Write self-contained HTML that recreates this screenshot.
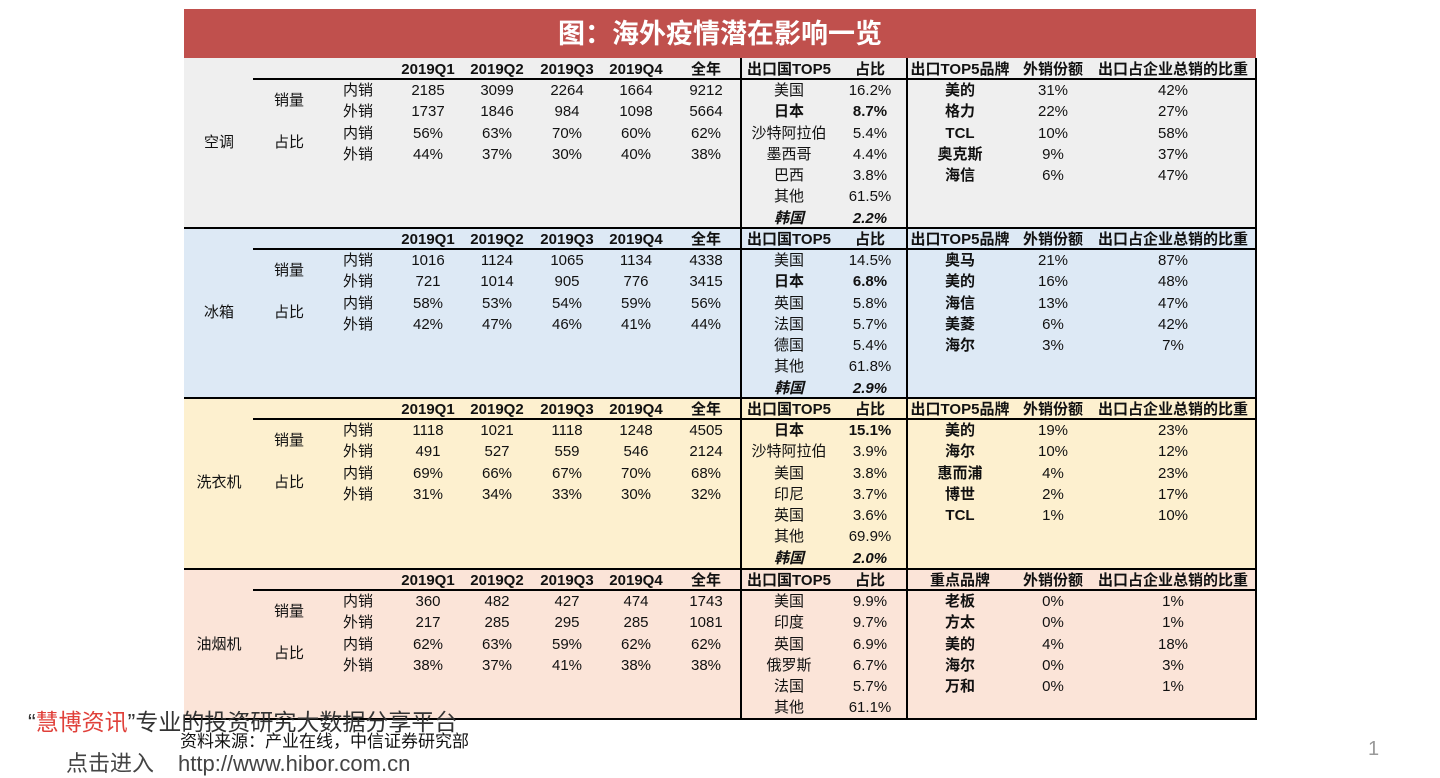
<!DOCTYPE html>
<html><head><meta charset="utf-8"><style>
body{margin:0;width:1440px;height:770px;background:#fff;position:relative;overflow:hidden;font-family:"Liberation Sans","Noto Sans CJK SC",sans-serif;}
.sec{position:absolute;left:184px;width:1072px;}
.r{position:absolute;left:0;width:1072px;height:21px;font-size:15px;line-height:24px;color:#111;}
.r span{position:absolute;text-align:center;white-space:nowrap;}
.h{font-weight:bold;}
.a{left:144px;width:60px}.q1{left:214px;width:60px}.q2{left:283px;width:60px}.q3{left:353px;width:60px}.q4{left:422px;width:60px}.y{left:489px;width:66px}
.c{left:557px;width:96px}.p{left:656px;width:60px}.b{left:726px;width:100px}.s{left:829px;width:80px}.w{left:909px;width:160px}
.hl{position:absolute;height:1.5px;background:#000;}
.vl{position:absolute;width:1.5px;background:#000;}
.lab{position:absolute;font-size:15px;line-height:24px;text-align:center;color:#111;}
.it{font-weight:bold;font-style:italic;}
</style></head><body>
<div style="position:absolute;left:184px;top:9px;width:1072px;height:49px;background:#c0504d;color:#fff;font-size:27px;font-weight:bold;text-align:center;line-height:50px;">图：海外疫情潜在影响一览</div>

<!-- section 1 -->
<div class="sec" style="top:58px;height:170px;background:#efefef;">
<div class="lab" style="left:0;width:70px;top:73px;">空调</div>
<div class="lab" style="left:70px;width:70px;top:31px;">销量</div>
<div class="lab" style="left:70px;width:70px;top:73px;">占比</div>
<div class="r h" style="top:0"><span class="q1">2019Q1</span><span class="q2">2019Q2</span><span class="q3">2019Q3</span><span class="q4">2019Q4</span><span class="y">全年</span><span class="c">出口国TOP5</span><span class="p">占比</span><span class="b">出口TOP5品牌</span><span class="s">外销份额</span><span class="w">出口占企业总销的比重</span></div>
<div class="r" style="top:21px"><span class="a">内销</span><span class="q1">2185</span><span class="q2">3099</span><span class="q3">2264</span><span class="q4">1664</span><span class="y">9212</span><span class="c">美国</span><span class="p">16.2%</span><span class="b h">美的</span><span class="s">31%</span><span class="w">42%</span></div>
<div class="r" style="top:42.3px"><span class="a">外销</span><span class="q1">1737</span><span class="q2">1846</span><span class="q3">984</span><span class="q4">1098</span><span class="y">5664</span><span class="c h">日本</span><span class="p h">8.7%</span><span class="b h">格力</span><span class="s">22%</span><span class="w">27%</span></div>
<div class="r" style="top:63.5px"><span class="a">内销</span><span class="q1">56%</span><span class="q2">63%</span><span class="q3">70%</span><span class="q4">60%</span><span class="y">62%</span><span class="c">沙特阿拉伯</span><span class="p">5.4%</span><span class="b h">TCL</span><span class="s">10%</span><span class="w">58%</span></div>
<div class="r" style="top:84.8px"><span class="a">外销</span><span class="q1">44%</span><span class="q2">37%</span><span class="q3">30%</span><span class="q4">40%</span><span class="y">38%</span><span class="c">墨西哥</span><span class="p">4.4%</span><span class="b h">奥克斯</span><span class="s">9%</span><span class="w">37%</span></div>
<div class="r" style="top:106px"><span class="c">巴西</span><span class="p">3.8%</span><span class="b h">海信</span><span class="s">6%</span><span class="w">47%</span></div>
<div class="r" style="top:127.3px"><span class="c">其他</span><span class="p">61.5%</span></div>
<div class="r it" style="top:148.5px"><span class="c">韩国</span><span class="p">2.2%</span></div>
<div class="hl" style="left:69px;width:1003px;top:20px"></div>
<div class="vl" style="left:556px;top:0;height:170px"></div><div class="vl" style="left:722px;top:0;height:170px"></div>
</div>

<!-- section 2 -->
<div class="sec" style="top:228px;height:170px;background:#dde9f5;">
<div class="hl" style="left:0;width:1072px;top:-1px"></div>
<div class="lab" style="left:0;width:70px;top:73px;">冰箱</div>
<div class="lab" style="left:70px;width:70px;top:31px;">销量</div>
<div class="lab" style="left:70px;width:70px;top:73px;">占比</div>
<div class="r h" style="top:0"><span class="q1">2019Q1</span><span class="q2">2019Q2</span><span class="q3">2019Q3</span><span class="q4">2019Q4</span><span class="y">全年</span><span class="c">出口国TOP5</span><span class="p">占比</span><span class="b">出口TOP5品牌</span><span class="s">外销份额</span><span class="w">出口占企业总销的比重</span></div>
<div class="r" style="top:21px"><span class="a">内销</span><span class="q1">1016</span><span class="q2">1124</span><span class="q3">1065</span><span class="q4">1134</span><span class="y">4338</span><span class="c">美国</span><span class="p">14.5%</span><span class="b h">奥马</span><span class="s">21%</span><span class="w">87%</span></div>
<div class="r" style="top:42.3px"><span class="a">外销</span><span class="q1">721</span><span class="q2">1014</span><span class="q3">905</span><span class="q4">776</span><span class="y">3415</span><span class="c h">日本</span><span class="p h">6.8%</span><span class="b h">美的</span><span class="s">16%</span><span class="w">48%</span></div>
<div class="r" style="top:63.5px"><span class="a">内销</span><span class="q1">58%</span><span class="q2">53%</span><span class="q3">54%</span><span class="q4">59%</span><span class="y">56%</span><span class="c">英国</span><span class="p">5.8%</span><span class="b h">海信</span><span class="s">13%</span><span class="w">47%</span></div>
<div class="r" style="top:84.8px"><span class="a">外销</span><span class="q1">42%</span><span class="q2">47%</span><span class="q3">46%</span><span class="q4">41%</span><span class="y">44%</span><span class="c">法国</span><span class="p">5.7%</span><span class="b h">美菱</span><span class="s">6%</span><span class="w">42%</span></div>
<div class="r" style="top:106px"><span class="c">德国</span><span class="p">5.4%</span><span class="b h">海尔</span><span class="s">3%</span><span class="w">7%</span></div>
<div class="r" style="top:127.3px"><span class="c">其他</span><span class="p">61.8%</span></div>
<div class="r it" style="top:148.5px"><span class="c">韩国</span><span class="p">2.9%</span></div>
<div class="hl" style="left:69px;width:1003px;top:20px"></div>
<div class="vl" style="left:556px;top:0;height:170px"></div><div class="vl" style="left:722px;top:0;height:170px"></div>
</div>

<!-- section 3 -->
<div class="sec" style="top:398px;height:171px;background:#fdf0cf;">
<div class="hl" style="left:0;width:1072px;top:-1px"></div>
<div class="lab" style="left:0;width:70px;top:73px;">洗衣机</div>
<div class="lab" style="left:70px;width:70px;top:31px;">销量</div>
<div class="lab" style="left:70px;width:70px;top:73px;">占比</div>
<div class="r h" style="top:0"><span class="q1">2019Q1</span><span class="q2">2019Q2</span><span class="q3">2019Q3</span><span class="q4">2019Q4</span><span class="y">全年</span><span class="c">出口国TOP5</span><span class="p">占比</span><span class="b">出口TOP5品牌</span><span class="s">外销份额</span><span class="w">出口占企业总销的比重</span></div>
<div class="r" style="top:21px"><span class="a">内销</span><span class="q1">1118</span><span class="q2">1021</span><span class="q3">1118</span><span class="q4">1248</span><span class="y">4505</span><span class="c h">日本</span><span class="p h">15.1%</span><span class="b h">美的</span><span class="s">19%</span><span class="w">23%</span></div>
<div class="r" style="top:42.3px"><span class="a">外销</span><span class="q1">491</span><span class="q2">527</span><span class="q3">559</span><span class="q4">546</span><span class="y">2124</span><span class="c">沙特阿拉伯</span><span class="p">3.9%</span><span class="b h">海尔</span><span class="s">10%</span><span class="w">12%</span></div>
<div class="r" style="top:63.5px"><span class="a">内销</span><span class="q1">69%</span><span class="q2">66%</span><span class="q3">67%</span><span class="q4">70%</span><span class="y">68%</span><span class="c">美国</span><span class="p">3.8%</span><span class="b h">惠而浦</span><span class="s">4%</span><span class="w">23%</span></div>
<div class="r" style="top:84.8px"><span class="a">外销</span><span class="q1">31%</span><span class="q2">34%</span><span class="q3">33%</span><span class="q4">30%</span><span class="y">32%</span><span class="c">印尼</span><span class="p">3.7%</span><span class="b h">博世</span><span class="s">2%</span><span class="w">17%</span></div>
<div class="r" style="top:106px"><span class="c">英国</span><span class="p">3.6%</span><span class="b h">TCL</span><span class="s">1%</span><span class="w">10%</span></div>
<div class="r" style="top:127.3px"><span class="c">其他</span><span class="p">69.9%</span></div>
<div class="r it" style="top:148.5px"><span class="c">韩国</span><span class="p">2.0%</span></div>
<div class="hl" style="left:69px;width:1003px;top:20px"></div>
<div class="vl" style="left:556px;top:0;height:171px"></div><div class="vl" style="left:722px;top:0;height:171px"></div>
</div>

<!-- section 4 -->
<div class="sec" style="top:569px;height:150px;background:#fbe4d8;">
<div class="hl" style="left:0;width:1072px;top:-1px"></div>
<div class="lab" style="left:0;width:70px;top:64px;">油烟机</div>
<div class="lab" style="left:70px;width:70px;top:31px;">销量</div>
<div class="lab" style="left:70px;width:70px;top:73px;">占比</div>
<div class="r h" style="top:0"><span class="q1">2019Q1</span><span class="q2">2019Q2</span><span class="q3">2019Q3</span><span class="q4">2019Q4</span><span class="y">全年</span><span class="c">出口国TOP5</span><span class="p">占比</span><span class="b">重点品牌</span><span class="s">外销份额</span><span class="w">出口占企业总销的比重</span></div>
<div class="r" style="top:21px"><span class="a">内销</span><span class="q1">360</span><span class="q2">482</span><span class="q3">427</span><span class="q4">474</span><span class="y">1743</span><span class="c">美国</span><span class="p">9.9%</span><span class="b h">老板</span><span class="s">0%</span><span class="w">1%</span></div>
<div class="r" style="top:42.3px"><span class="a">外销</span><span class="q1">217</span><span class="q2">285</span><span class="q3">295</span><span class="q4">285</span><span class="y">1081</span><span class="c">印度</span><span class="p">9.7%</span><span class="b h">方太</span><span class="s">0%</span><span class="w">1%</span></div>
<div class="r" style="top:63.5px"><span class="a">内销</span><span class="q1">62%</span><span class="q2">63%</span><span class="q3">59%</span><span class="q4">62%</span><span class="y">62%</span><span class="c">英国</span><span class="p">6.9%</span><span class="b h">美的</span><span class="s">4%</span><span class="w">18%</span></div>
<div class="r" style="top:84.8px"><span class="a">外销</span><span class="q1">38%</span><span class="q2">37%</span><span class="q3">41%</span><span class="q4">38%</span><span class="y">38%</span><span class="c">俄罗斯</span><span class="p">6.7%</span><span class="b h">海尔</span><span class="s">0%</span><span class="w">3%</span></div>
<div class="r" style="top:106px"><span class="c">法国</span><span class="p">5.7%</span><span class="b h">万和</span><span class="s">0%</span><span class="w">1%</span></div>
<div class="r" style="top:127.3px"><span class="c">其他</span><span class="p">61.1%</span></div>
<div class="hl" style="left:69px;width:1003px;top:20px"></div>
<div class="vl" style="left:556px;top:0;height:150px"></div><div class="vl" style="left:722px;top:0;height:150px"></div>
<div class="hl" style="left:0;width:1072px;top:149px"></div>
</div>
<div class="vl" style="left:1255px;top:58px;height:662px"></div>

<div style="position:absolute;left:28px;top:708px;font-size:23px;line-height:28px;color:#333;white-space:nowrap;">“<span style="color:#e0403a">慧博资讯</span>”专业的投资研究大数据分享平台</div>
<div style="position:absolute;left:180px;top:731px;font-size:17px;line-height:22px;color:#111;white-space:nowrap;">资料来源：产业在线，中信证券研究部</div>
<div style="position:absolute;left:66px;top:750px;font-size:22px;line-height:28px;color:#444;white-space:nowrap;">点击进入<span style="display:inline-block;width:24px"></span>http://www.hibor.com.cn</div>
<div style="position:absolute;left:1368px;top:738px;font-size:20px;color:#999;">1</div>
</body></html>
